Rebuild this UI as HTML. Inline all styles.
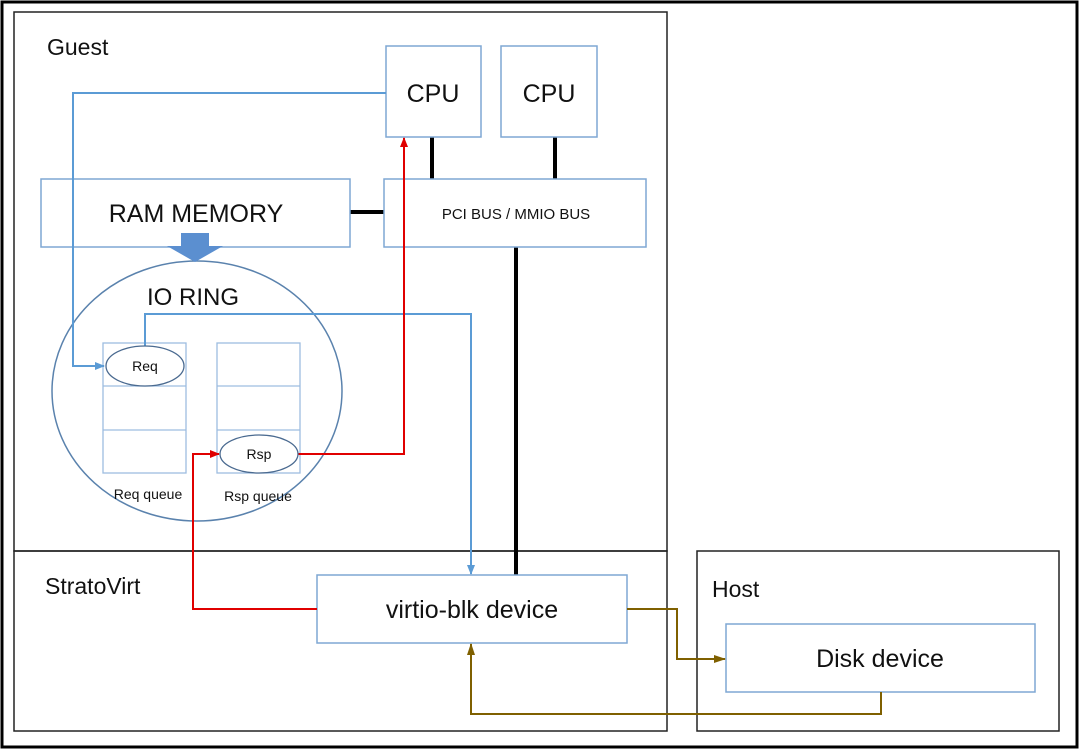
<!DOCTYPE html>
<html><head><meta charset="utf-8"><style>
html,body{margin:0;padding:0;background:#fff;}
svg{display:block;}
text{font-family:"Liberation Sans",sans-serif;fill:#111;}
</style></head><body>
<svg width="1080" height="750" viewBox="0 0 1080 750" xmlns="http://www.w3.org/2000/svg">
<defs>
<marker id="ab" markerWidth="10" markerHeight="10" refX="9" refY="5" orient="auto" markerUnits="userSpaceOnUse"><path d="M0,1 L10,5 L0,9 z" fill="#5b9bd5"/></marker>
<marker id="ar" markerWidth="10" markerHeight="10" refX="9" refY="5" orient="auto" markerUnits="userSpaceOnUse"><path d="M0,1 L10,5 L0,9 z" fill="#e00000"/></marker>
<marker id="ao" markerWidth="12" markerHeight="10" refX="11" refY="5" orient="auto" markerUnits="userSpaceOnUse"><path d="M0,1 L12,5 L0,9 z" fill="#7f6000"/></marker>
</defs>
<rect x="2" y="2" width="1075" height="745" fill="none" stroke="#000" stroke-width="3"/>
<rect x="14" y="12" width="653" height="539" fill="none" stroke="#222" stroke-width="1.5"/>
<rect x="14" y="551" width="653" height="180" fill="none" stroke="#222" stroke-width="1.5"/>
<rect x="697" y="551" width="362" height="180" fill="none" stroke="#222" stroke-width="1.5"/>
<text x="47" y="55" font-size="23">Guest</text>
<text x="45" y="594" font-size="23">StratoVirt</text>
<text x="712" y="597" font-size="23">Host</text>
<!-- black lines -->
<line x1="432" y1="137" x2="432" y2="179" stroke="#000" stroke-width="4"/>
<line x1="555" y1="137" x2="555" y2="179" stroke="#000" stroke-width="4"/>
<line x1="350" y1="212" x2="384" y2="212" stroke="#000" stroke-width="4"/>
<line x1="516" y1="247" x2="516" y2="575" stroke="#000" stroke-width="4"/>
<!-- boxes -->
<g fill="#fff" stroke="#7fa7d4" stroke-width="1.5">
<rect x="386" y="46" width="95" height="91"/>
<rect x="501" y="46" width="96" height="91"/>
<rect x="41" y="179" width="309" height="68"/>
<rect x="384" y="179" width="262" height="68"/>
<rect x="317" y="575" width="310" height="68"/>
<rect x="726" y="624" width="309" height="68"/>
</g>
<text x="433" y="102" font-size="25" text-anchor="middle">CPU</text>
<text x="549" y="102" font-size="25" text-anchor="middle">CPU</text>
<text x="196" y="222" font-size="25" text-anchor="middle">RAM MEMORY</text>
<text x="516" y="219" font-size="15" text-anchor="middle">PCI BUS / MMIO BUS</text>
<text x="472" y="618" font-size="25" text-anchor="middle">virtio-blk device</text>
<text x="880" y="667" font-size="25" text-anchor="middle">Disk device</text>
<!-- circle -->
<ellipse cx="197" cy="391" rx="145" ry="130" fill="none" stroke="#5a82ad" stroke-width="1.5"/>
<path d="M181,233 L209,233 L209,246 L223,246 L195,262 L167,246 L181,246 z" fill="#5b8fd0"/>
<text x="193" y="305" font-size="24" text-anchor="middle">IO RING</text>
<g fill="none" stroke="#9dbde0" stroke-width="1.3">
<rect x="103" y="343" width="83" height="130"/>
<line x1="103" y1="386" x2="186" y2="386"/><line x1="103" y1="430" x2="186" y2="430"/>
<rect x="217" y="343" width="83" height="130"/>
<line x1="217" y1="386" x2="300" y2="386"/><line x1="217" y1="430" x2="300" y2="430"/>
</g>
<text x="148" y="499" font-size="14" text-anchor="middle">Req queue</text>
<text x="258" y="501" font-size="14" text-anchor="middle">Rsp queue</text>
<!-- connectors -->
<g fill="none" stroke-width="2">
<path d="M386,93 L73,93 L73,366 L104,366" stroke="#5b9bd5" marker-end="url(#ab)"/>
<path d="M145,347 L145,314 L471,314 L471,574" stroke="#5b9bd5" marker-end="url(#ab)"/>
<path d="M298,454 L404,454 L404,138" stroke="#e00000" marker-end="url(#ar)"/>
<path d="M317,609 L193,609 L193,454 L219,454" stroke="#e00000" marker-end="url(#ar)"/>
<path d="M627,609 L677,609 L677,659 L725,659" stroke="#7f6000" marker-end="url(#ao)"/>
<path d="M881,692 L881,714 L471,714 L471,644" stroke="#7f6000" marker-end="url(#ao)"/>
</g>
<ellipse cx="145" cy="366" rx="39" ry="20" fill="#fff" stroke="#4a6a90" stroke-width="1.3"/>
<ellipse cx="259" cy="454" rx="39" ry="19" fill="#fff" stroke="#4a6a90" stroke-width="1.3"/>
<text x="145" y="371" font-size="14" text-anchor="middle">Req</text>
<text x="259" y="459" font-size="14" text-anchor="middle">Rsp</text>
</svg>
</body></html>
